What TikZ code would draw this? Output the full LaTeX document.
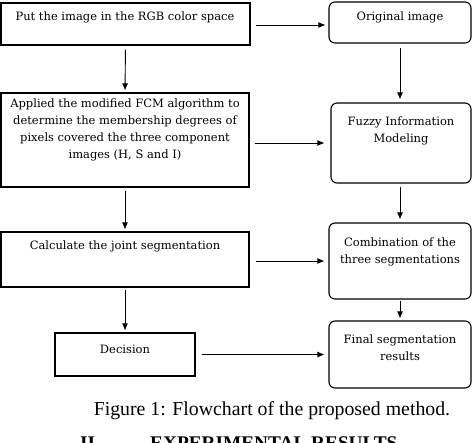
\documentclass[tikz,border=0pt]{standalone}
\usepackage{fontspec}
\setmainfont{DejaVu Serif}
\newfontfamily\capfont{Liberation Serif}
\usetikzlibrary{arrows.meta}
\tikzset{
  sqbox/.style={draw, line width=1.1pt, inner sep=0pt},
  rbox/.style={draw, line width=1.1pt, rounded corners=6pt, inner sep=0pt},
  txt/.style={inner sep=0pt, align=center, font=\fontsize{11.5}{17}\selectfont},
  arr/.style={line width=0.9pt, -{Latex[length=7pt,width=6pt]}},
}
\begin{document}
\begin{tikzpicture}[x=1pt,y=-1pt]
\useasboundingbox (0,0) rectangle (474,442);
\clip (0,0) rectangle (474,442);
% left column boxes
\node[sqbox, minimum width=249pt, minimum height=42pt] (b1) at (125.5,24) {};
\node[sqbox, minimum width=248pt, minimum height=94pt] (b2) at (125,140) {};
\node[sqbox, minimum width=248pt, minimum height=55pt] (b3) at (125,259.5) {};
\node[sqbox, minimum width=140pt, minimum height=43pt] (b4) at (125,354.5) {};
% right column boxes
\node[rbox, minimum width=142pt, minimum height=41pt] (r1) at (400,22.5) {};
\node[rbox, minimum width=140pt, minimum height=80pt] (r2) at (401,143) {};
\node[rbox, minimum width=142pt, minimum height=76pt] (r3) at (400,261) {};
\node[rbox, minimum width=142pt, minimum height=67pt] (r4) at (400,354.5) {};
% texts
\node[txt] (t1) at (125,17) {Put the image in the RGB color space};
\node[txt, anchor=north] (t2) at (125,99) {Applied the modified FCM algorithm to\\determine the membership degrees of\\pixels covered the three component\\images (H, S and I)};
\node[txt] (t3) at (125,246) {Calculate the joint segmentation};
\node[txt] (t4) at (125,349) {Decision};
\node[txt] (u1) at (400,17) {Original image};
\node[txt] (u2) at (401,130.5) {Fuzzy Information\\Modeling};
\node[txt] (u3) at (400,251.5) {Combination of the\\three segmentations};
\node[txt] (u4) at (400,348) {Final segmentation\\results};
% arrows
\draw[arr, shorten <=4pt, shorten >=2pt] (b1.south) -- (b2.north);
\draw[arr, shorten <=3pt, shorten >=2pt] (b2.south) -- (b3.north);
\draw[arr, shorten <=2pt, shorten >=2pt] (b3.south) -- (b4.north);
\draw[arr, shorten <=4pt, shorten >=3pt] (r1.south) -- (r2.north -| r1.south);
\draw[arr, shorten <=3pt, shorten >=3pt] (r2.south -| r1.south) -- (r3.north);
\draw[arr, shorten <=1pt, shorten >=2pt] (r3.south) -- (r4.north);
\draw[arr, shorten <=5pt, shorten >=3pt] ([yshift=-1pt]b1.east) -- ([yshift=-1pt]b1.east -| r1.west);
\draw[arr, shorten <=5pt, shorten >=6pt] ([yshift=-3pt]b2.east) -- ([yshift=-3pt]b2.east -| r2.west);
\draw[arr, shorten <=6pt, shorten >=4pt] ([yshift=-1.5pt]b3.east) -- ([yshift=-1.5pt]b3.east -| r3.west);
\draw[arr, shorten <=6pt, shorten >=4pt] (b4.east) -- (b4.east -| r4.west);
% caption
\node[inner sep=0pt, anchor=base, font=\capfont\fontsize{19.8}{22}\selectfont] (cap) at (272,415) {Figure 1: Flowchart of the proposed method.};
\node[inner sep=0pt, anchor=base west, font=\capfont\bfseries\fontsize{19.3}{22}\selectfont] (h1) at (80,449) {II.};
\node[inner sep=0pt, anchor=base west, font=\capfont\bfseries\fontsize{19.3}{22}\selectfont] (h2) at (150,449) {EXPERIMENTAL RESULTS};
\end{tikzpicture}
\end{document}
